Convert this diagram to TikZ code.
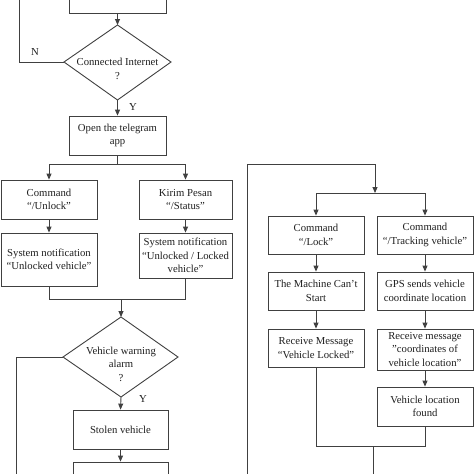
\documentclass[tikz,border=0pt]{standalone}
\usepackage{fontspec}
\setmainfont{Liberation Serif}
\usetikzlibrary{arrows.meta}
\definecolor{linec}{HTML}{404040}
\definecolor{textc}{HTML}{202020}
\begin{document}
\begin{tikzpicture}[x=1pt,y=-1pt,
  font=\fontsize{10.7}{13.4}\selectfont,
  box/.style={draw=linec, line width=0.8pt, rectangle, inner sep=1pt, align=center, text=textc},
  lbl/.style={align=center, inner sep=0pt, text=textc},
  conn/.style={draw=linec, line width=0.9pt},
  arr/.style={conn, -{Triangle[length=6pt,width=5pt]}}]
\useasboundingbox (0,0) rectangle (474,474);
\clip (0,0) rectangle (474,474);
\fill[white] (0,0) rectangle (474,474);

% ---------- left column ----------
\node[box, minimum width=97pt, minimum height=42pt] (top) at (117.5,-8) {};

\coordinate (d1n) at (117.5,25);
\coordinate (d1e) at (171,62);
\coordinate (d1s) at (117.5,100);
\coordinate (d1w) at (64,62);
\draw[conn] (d1n) -- (d1e) -- (d1s) -- (d1w) -- cycle;
\node[lbl] (d1t) at (117.5,69) {Connected Internet\\?};

\node[box, minimum width=97pt, minimum height=39pt] (open) at (117.5,135.5) {Open the telegram\\app};

\node[box, minimum width=96pt, minimum height=39pt] (unlock) at (49,199.5) {Command\\“/Unlock”};
\node[box, minimum width=93pt, minimum height=39pt] (kirim) at (185.5,199.5) {Kirim Pesan\\“/Status”};
\node[box, minimum width=96pt, minimum height=53pt] (sys1) at (49,259.5) {System notification\\“Unlocked vehicle”};
\node[box, minimum width=93pt, minimum height=45pt] (sys2) at (185.5,255.5) {System notification\\“Unlocked / Locked\\vehicle”};

\coordinate (d2n) at (121,317);
\coordinate (d2e) at (178,357);
\coordinate (d2s) at (121,397);
\coordinate (d2w) at (63,357);
\draw[conn] (d2n) -- (d2e) -- (d2s) -- (d2w) -- cycle;
\node[lbl] (d2t) at (121,364) {Vehicle warning\\alarm\\?};

\node[box, minimum width=95pt, minimum height=39pt] (stolen) at (120.5,429.5) {Stolen vehicle};
\node[box, minimum width=95pt, minimum height=38pt] (next) at (120.5,481) {};

\node[lbl] (lN) at (35,52) {N};
\node[lbl] (lY1) at (133,107) {Y};
\node[lbl] (lY2) at (143,399) {Y};

\coordinate (loopA) at (19,-10);
\coordinate (loopB) at (16,490);
\coordinate (j1) at (117.5,164);
\coordinate (j2) at (121,299);

\draw[arr] (top.south) -- (d1n);
\draw[conn] (d1w) -| (loopA);
\draw[arr] (d1s) -- (open.north);
\draw[conn] (open.south) -- (j1);
\draw[arr] (j1) -| (unlock.north);
\draw[arr] (j1) -| (kirim.north);
\draw[arr] (unlock.south) -- (sys1.north);
\draw[arr] (kirim.south) -- (sys2.north);
\draw[conn] (sys1.south) |- (j2);
\draw[conn] (sys2.south) |- (j2);
\draw[arr] (j2) -- (d2n);
\draw[conn] (d2w) -| (loopB);
\draw[arr] (d2s) -- (stolen.north);
\draw[arr] (stolen.south) -- (next.north);

% ---------- right column ----------
\node[box, minimum width=96pt, minimum height=38pt] (lock) at (316,235) {Command\\“/Lock”};
\node[box, minimum width=96pt, minimum height=38pt] (track) at (425,235) {Command\\“/Tracking vehicle”};
\node[box, minimum width=96pt, minimum height=38pt] (machine) at (316,291) {The Machine Can\symbol{39}t\\Start};
\node[box, minimum width=96pt, minimum height=38pt] (gps) at (425,291) {GPS sends vehicle\\coordinate location};
\node[box, minimum width=96pt, minimum height=38pt] (recv) at (316,348) {Receive Message\\“Vehicle Locked”};
\node[box, minimum width=96pt, minimum height=41pt] (coord) at (425,349.5) {Receive message\\\symbol{34}coordinates of\\vehicle location\symbol{34}};
\node[box, minimum width=96pt, minimum height=39pt] (found) at (425,406.5) {Vehicle location\\found};

\coordinate (loopC) at (247,490);
\coordinate (c3top) at (375,164);
\coordinate (j3) at (375,193);
\coordinate (j4) at (373,446);
\coordinate (bot) at (373,490);

\draw[arr] (loopC) |- (c3top) -- (j3);
\draw[arr] (j3) -| (lock.north);
\draw[arr] (j3) -| (track.north);
\draw[arr] (lock.south) -- (machine.north);
\draw[arr] (machine.south) -- (recv.north);
\draw[arr] (track.south) -- (gps.north);
\draw[arr] (gps.south) -- (coord.north);
\draw[arr] (coord.south) -- (found.north);
\draw[conn] (recv.south) |- (j4);
\draw[conn] (found.south) |- (j4);
\draw[conn] (j4) -- (bot);
\end{tikzpicture}
\end{document}
